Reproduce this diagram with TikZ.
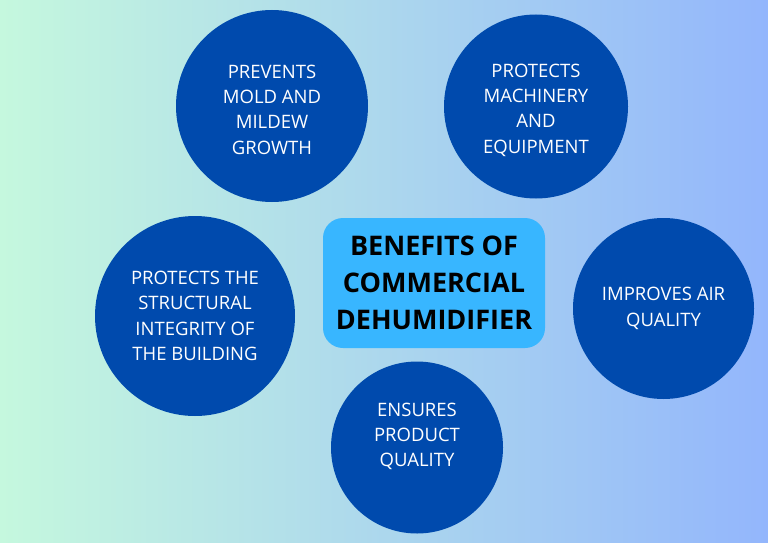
\documentclass[tikz,border=0pt]{standalone}
\usepackage{fontspec}
\setmainfont{Open Sans}
\definecolor{bgleft}{RGB}{197,248,222}
\definecolor{bgright}{RGB}{147,182,252}
\definecolor{circblue}{HTML}{004AAD}
\definecolor{boxblue}{HTML}{38B6FF}
\begin{document}
\begin{tikzpicture}[x=1pt,y=-1pt,
  benefit/.style={circle,fill=circblue,text=white,align=center,inner sep=0pt,
    font=\fontsize{18.5}{25.3}\selectfont},
  titlebox/.style={rounded corners=20pt,fill=boxblue,text=black,align=center,
    font=\fontsize{27}{37}\selectfont\bfseries,inner sep=0pt}]
\shade[left color=bgleft,right color=bgright] (0,0) rectangle (768,543);
\useasboundingbox (0,0) rectangle (768,543);
\node[titlebox,minimum width=222pt,minimum height=130pt] (title) at (434,283)
  {BENEFITS OF\\COMMERCIAL\\DEHUMIDIFIER};
\node[benefit,minimum size=192pt,text depth=0pt] (mold) at (272,106)
  {\\[-5pt]PREVENTS\\MOLD AND\\MILDEW\\GROWTH};
\node[benefit,minimum size=184pt] (mach) at (536,106.5)
  {\\[-5pt]PROTECTS\\MACHINERY\\AND\\EQUIPMENT};
\node[benefit,minimum size=200pt] (struct) at (195,316)
  {PROTECTS THE\\STRUCTURAL\\INTEGRITY OF\\THE BUILDING};
\node[benefit,minimum size=181pt] (air) at (663.5,308.5)
  {IMPROVES AIR\\QUALITY};
\node[benefit,minimum size=172pt] (prod) at (417,447.5)
  {ENSURES\\PRODUCT\\QUALITY\\\mbox{}};
\end{tikzpicture}
\end{document}
